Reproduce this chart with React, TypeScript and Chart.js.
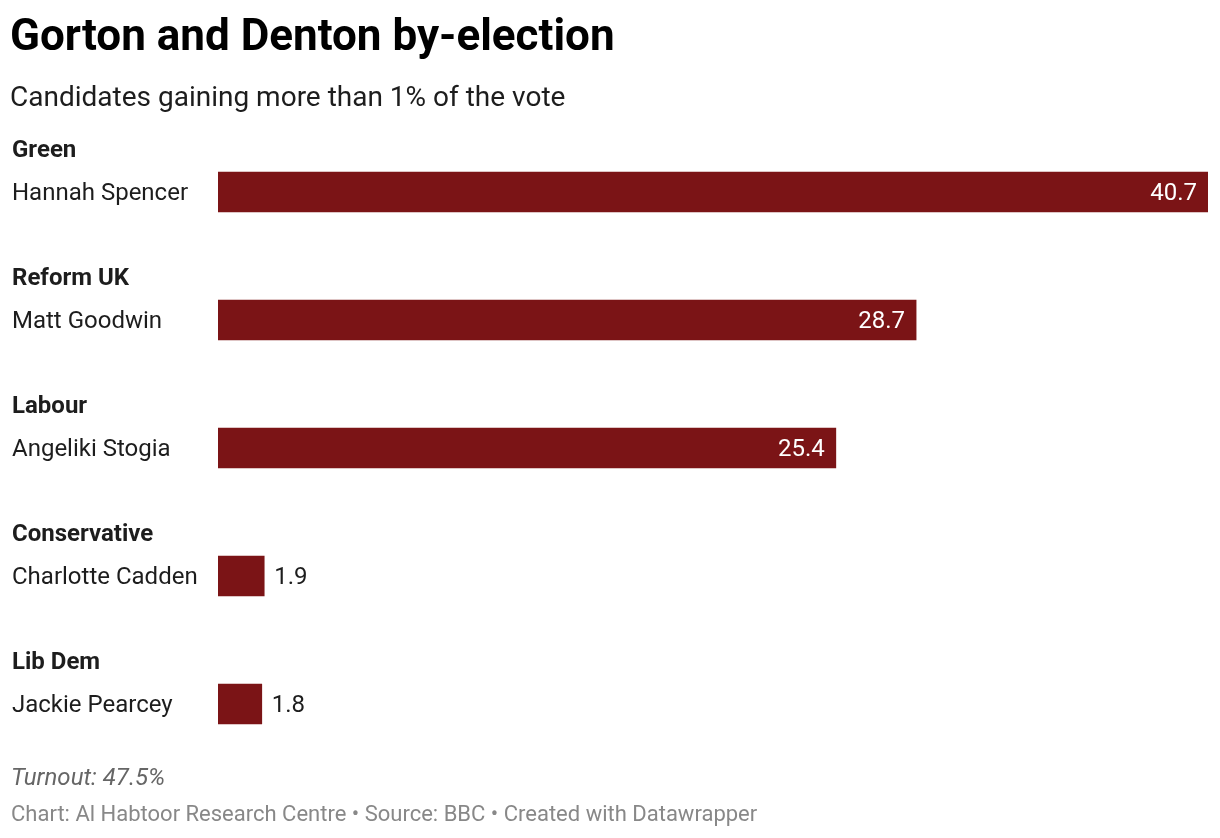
import React, { useEffect, useRef } from "react";
import { Chart, registerables } from "chart.js";

Chart.register(...registerables);

const titleText = "Gorton and Denton by-election";
const subtitleText = "Candidates gaining more than 1% of the vote";
const noteText = "Turnout: 47.5%";
const creditText = "Chart: Al Habtoor Research Centre • Source: BBC • Created with Datawrapper";

const parties = ["Green", "Reform UK", "Labour", "Conservative", "Lib Dem"];
const candidates = ["Hannah Spencer", "Matt Goodwin", "Angeliki Stogia", "Charlotte Cadden", "Jackie Pearcey"];
const votes = [40.7, 28.7, 25.4, 1.9, 1.8];

const BAR_COLOR = "#7b1416";
const TEXT_COLOR = "#1d1d1d";
const FONT = "Roboto, 'Noto Sans', sans-serif";

const textPlugin = {
  id: "dwText",
  afterDatasetsDraw(chart: any) {
    const ctx = chart.ctx as CanvasRenderingContext2D;
    const yScale = chart.scales.y;
    const meta = chart.getDatasetMeta(0);
    ctx.save();
    ctx.textBaseline = "alphabetic";
    ctx.textAlign = "left";

    // title & subtitle
    ctx.fillStyle = "#000";
    ctx.font = `bold 44px ${FONT}`;
    ctx.fillText(titleText, 10, 50);
    ctx.fillStyle = TEXT_COLOR;
    ctx.font = `28px ${FONT}`;
    ctx.fillText(subtitleText, 10, 106);

    // row labels
    candidates.forEach((name, i) => {
      const yc = yScale.getPixelForValue(i) + 1.5;
      ctx.textBaseline = "middle";
      ctx.textAlign = "left";
      ctx.fillStyle = TEXT_COLOR;
      ctx.font = `bold 24px ${FONT}`;
      ctx.fillText(parties[i], 12, yc - 43);
      ctx.font = `24px ${FONT}`;
      ctx.fillText(name, 12, yc);

      const bar = meta.data[i];
      const label = votes[i].toFixed(1);
      const w = ctx.measureText(label).width;
      const barW = bar.x - bar.base;
      if (barW > w + 30) {
        ctx.fillStyle = "#ffffff";
        ctx.textAlign = "right";
        ctx.fillText(label, bar.x - 11, yc);
      } else {
        ctx.fillStyle = TEXT_COLOR;
        ctx.textAlign = "left";
        ctx.fillText(label, bar.x + 10, yc);
      }
    });

    // footer
    ctx.textBaseline = "alphabetic";
    ctx.textAlign = "left";
    ctx.fillStyle = "#666666";
    ctx.font = `italic 24px ${FONT}`;
    ctx.fillText(noteText, 11, 785);
    ctx.fillStyle = "#888888";
    ctx.font = `22px ${FONT}`;
    ctx.fillText(creditText, 11, 821);
    ctx.restore();
  },
};

export default function App() {
  const ref = useRef<HTMLCanvasElement | null>(null);

  useEffect(() => {
    document.body.style.margin = "0";
    document.body.style.background = "#ffffff";
    const canvas = ref.current;
    if (!canvas) return;
    const chart = new Chart(canvas, {
      type: "bar",
      data: {
        labels: candidates,
        datasets: [
          {
            data: votes,
            backgroundColor: BAR_COLOR,
            barThickness: 40,
            borderWidth: 0,
          },
        ],
      },
      options: {
        indexAxis: "y",
        animation: false,
        responsive: false,
        maintainAspectRatio: false,
        devicePixelRatio: 1,
        layout: { padding: { left: 218, right: 12, top: 128, bottom: 70 } },
        plugins: {
          legend: { display: false },
          tooltip: { enabled: false },
          title: { display: false },
        },
        scales: {
          x: { display: false, min: 0, max: 40.7 },
          y: { display: false },
        },
      },
      plugins: [textPlugin],
    });
    return () => chart.destroy();
  }, []);

  return (
    <div style={{ position: "absolute", left: 0, top: 0, width: 1220, height: 838, background: "#fff" }}>
      <canvas ref={ref} width={1220} height={838} style={{ width: 1220, height: 838, display: "block" }} />
    </div>
  );
}
